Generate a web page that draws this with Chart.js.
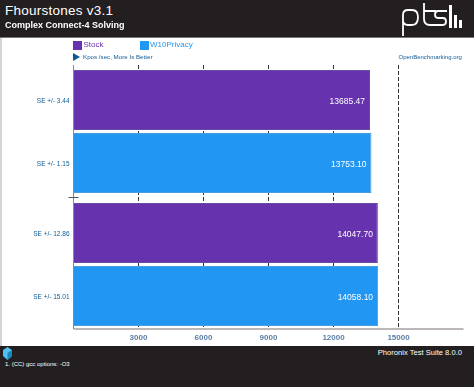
<!DOCTYPE html>
<html>
<head>
<meta charset="utf-8">
<script src="https://cdn.jsdelivr.net/npm/chart.js@4/dist/chart.umd.min.js"></script>
<style>
  html, body { margin: 0; padding: 0; background: #fff; }
  #page { position: relative; width: 474px; height: 387px; overflow: hidden; font-family: "Liberation Sans", Arial, sans-serif; }
  #page div, #page svg { position: absolute; white-space: nowrap; }
  canvas { position: absolute; left: 0; top: 0; }
  .band { left: 0; width: 474px; background: #231f20; }
  .swatch { width: 8.5px; height: 8.5px; top: 41px; }
  .legend { top: 39px; font-size: 8px; line-height: 12px; }
  .blue { color: #0e5a94; }
</style>
</head>
<body>
<div id="page">
  <canvas id="chart" width="474" height="387"></canvas>
  <div style="left:0;top:37px;width:2px;height:309px;background:#d4d4d4"></div>
  <div class="band" style="top:0;height:38px;border-bottom:1px solid #777;box-sizing:border-box"></div>
  <div class="band" style="top:346px;height:41px"></div>
  <div style="left:5px;top:2px;font-size:13.5px;line-height:17px;color:#fff;letter-spacing:.25px">Fhourstones v3.1</div>
  <div style="left:5px;top:19px;font-size:9px;line-height:13px;font-weight:bold;color:#fff">Complex Connect-4 Solving</div>
  <div class="swatch" style="left:73px;background:#6732ae"></div>
  <div class="legend" style="left:83.5px;color:#6732ae">Stock</div>
  <div class="swatch" style="left:140px;background:#2196f3"></div>
  <div class="legend" style="left:150px;color:#2196f3">W10Privacy</div>
  <svg style="left:73px;top:53px" width="8" height="9"><polygon points="0,0 7,4 0,8" fill="#0e5a94"/></svg>
  <div class="blue" style="left:83px;top:51px;font-size:6.2px;line-height:12px">Kpos /sec, More Is Better</div>
  <div class="blue" style="left:398.5px;top:51px;font-size:6px;line-height:12px">OpenBenchmarking.org</div>
  <svg style="left:400px;top:2px" width="72" height="35" fill="none" stroke="#fff" stroke-width="1.8">
    <path d="M3 34V13Q3 8 8 8H12Q18 8 18 15Q18 23 12 23H8Q3 23 3 18"/>
    <path d="M24 1V17Q24 23 30 23H36M24 9H36"/>
    <path d="M47 9H38Q35 9 35 12.5Q35 16 38 16H43Q46 16 46 19.5Q46 23 43 23H34"/>
    <path d="M50.5 3V26M55.5 13V26M60.5 18V26" stroke-width="3"/>
  </svg>
  <svg style="left:3px;top:347px" width="9" height="13"><polygon points="4.5,0 9,3 9,9 4.5,13 0,9 0,3" fill="#4fc3f0"/><polygon points="4.5,6 9,3 9,9 4.5,13" fill="#1c84bd"/></svg>
  <div style="left:5px;top:358px;font-size:6px;line-height:12px;color:#fff">1. (CC) gcc options: -O3</div>
  <div style="right:12px;top:347px;font-size:7.6px;line-height:12px;color:#fff">Phoronix Test Suite 8.0.0</div>
</div>
<script>
const categories = ['A', 'B'];
const seriesNames = ['Stock', 'W10Privacy'];
const stockValues = [13685.47, 14047.70];
const privacyValues = [13753.10, 14058.10];
const stockErrors = ['SE +/- 3.44', 'SE +/- 12.86'];
const privacyErrors = ['SE +/- 1.15', 'SE +/- 15.01'];
const tickValues = [0, 3000, 6000, 9000, 12000, 15000, 18000];
const tickLabels = ['', '3000', '6000', '9000', '12000', '15000', ''];

const PLOT_LEFT = 73.5, PLOT_RIGHT = 463.5, PLOT_TOP = 65, SCALE_BOTTOM = 331, AXIS_Y = 329;

// axis frame, the category tick and the value / SE labels
const barText = {
  id: 'barText',
  afterDatasetsDraw(chart) {
    const { ctx, scales: { y } } = chart;
    ctx.save();
    // hides the stub of the gridlines under the axis
    ctx.clearRect(PLOT_LEFT + 1, AXIS_Y + 1, PLOT_RIGHT - PLOT_LEFT, SCALE_BOTTOM - AXIS_Y);
    ctx.strokeStyle = '#bdb8b8';
    ctx.lineWidth = 2;
    ctx.beginPath();
    ctx.moveTo(PLOT_LEFT, AXIS_Y);
    ctx.lineTo(PLOT_RIGHT, AXIS_Y);
    ctx.stroke();
    ctx.strokeStyle = '#8d8787';
    ctx.lineWidth = 1;
    ctx.beginPath();
    ctx.moveTo(PLOT_LEFT, PLOT_TOP);
    ctx.lineTo(PLOT_LEFT, AXIS_Y);
    ctx.stroke();
    const midY = Math.round(y.getPixelForValue(0.5)) - 0.5;
    ctx.strokeStyle = '#555';
    ctx.beginPath();
    ctx.moveTo(PLOT_LEFT - 5, midY);
    ctx.lineTo(PLOT_LEFT + 5, midY);
    ctx.stroke();
    ctx.textBaseline = 'middle';
    ctx.textAlign = 'right';
    chart.data.datasets.forEach((ds, d) => {
      chart.getDatasetMeta(d).data.forEach((bar, i) => {
        ctx.font = '8.5px "Liberation Sans"';
        ctx.fillStyle = '#fff';
        ctx.fillText(ds.data[i].toFixed(2), bar.x - 5, bar.y + 1.5);
        ctx.font = '6.5px "Liberation Sans"';
        ctx.fillStyle = '#0e5a94';
        ctx.fillText(ds.errors[i], PLOT_LEFT - 4, bar.y + 1);
      });
    });
    ctx.restore();
  }
};

new Chart(document.getElementById('chart'), {
  type: 'bar',
  plugins: [barText],
  data: {
    labels: categories,
    datasets: [
      { label: seriesNames[0], data: stockValues, errors: stockErrors, backgroundColor: '#6732ae', borderColor: '#6a4aa8', borderWidth: 1 },
      { label: seriesNames[1], data: privacyValues, errors: privacyErrors, backgroundColor: '#2196f3', borderColor: '#4a9ee0', borderWidth: 1 }
    ]
  },
  options: {
    indexAxis: 'y',
    responsive: false,
    animation: false,
    categoryPercentage: 0.95,
    barPercentage: 0.95,
    layout: { padding: { left: 0, right: 474 - PLOT_RIGHT, top: PLOT_TOP, bottom: 0 } },
    plugins: { legend: { display: false }, title: { display: false }, tooltip: { enabled: false } },
    scales: {
      y: {
        afterFit(axis) { axis.width = PLOT_LEFT; },
        grid: { display: false },
        border: { display: false },
        ticks: { display: false }
      },
      x: {
        position: 'bottom',
        min: 0,
        max: 18000,
        afterBuildTicks(axis) { axis.ticks = tickValues.map(v => ({ value: v })); },
        afterFit(axis) {
          axis.height = 387 - SCALE_BOTTOM;
          axis.paddingLeft = 0;
          axis.paddingRight = 0;
        },
        border: { display: false, dash: [4, 2] },
        grid: {
          drawTicks: false,
          color: ctx => ctx.tick && ctx.tick.value > 0 && ctx.tick.value < 18000 ? '#333' : 'transparent'
        },
        ticks: {
          maxRotation: 0,
          autoSkip: false,
          padding: 2,
          color: '#5b7fa6',
          font: { family: 'Liberation Sans', size: 8, weight: 'bold' },
          callback: (v, i) => tickLabels[i]
        }
      }
    }
  }
});
</script>
</body>
</html>
